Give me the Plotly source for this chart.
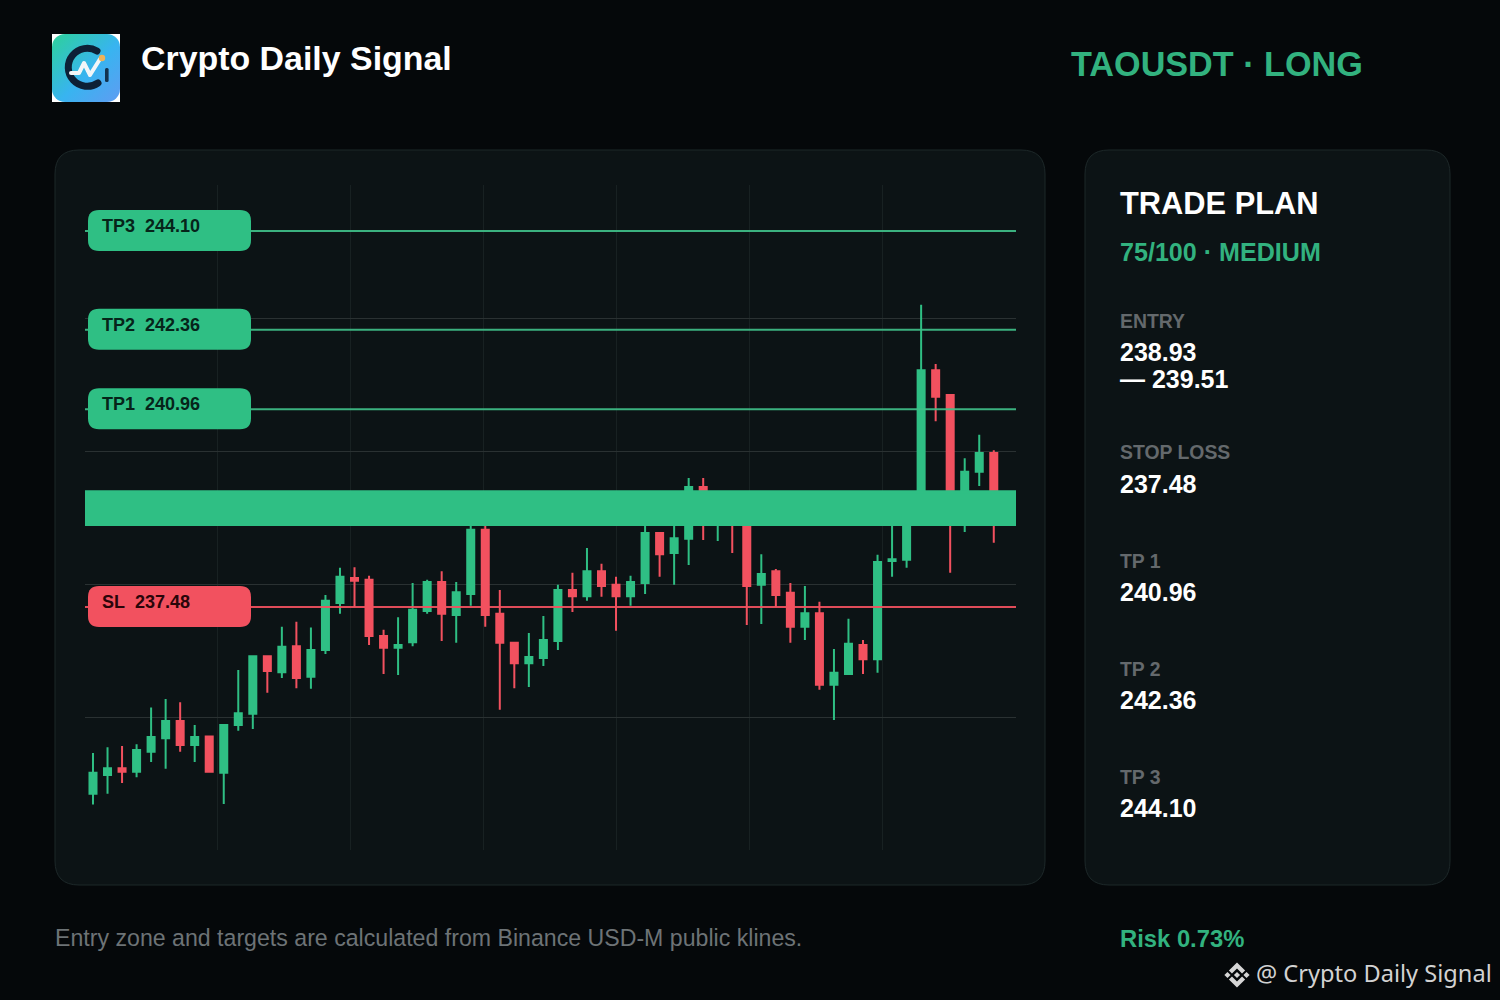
import base64
import plotly.graph_objects as go

# candles (hidden parts behind the entry band are guesses)
opens = [234.19, 234.52, 234.64, 234.58, 234.93, 235.17, 235.47, 235.05, 235.20, 234.56,
         235.40, 235.60, 236.61, 236.33, 236.79, 236.25, 236.72, 237.55, 237.99, 237.96,
         236.97, 236.76, 236.86, 237.41, 237.92, 237.34, 237.71, 238.84, 237.36, 236.85,
         236.49, 236.58, 236.88, 237.78, 237.67, 238.11, 237.87, 237.67, 237.90, 238.78,
         238.43, 238.68, 239.59, 239.10, 239.40, 239.10, 237.87, 238.11, 237.73, 237.13,
         237.37, 236.11, 236.30, 236.81, 236.56, 238.29, 238.31, 239.19, 241.65, 241.21,
         239.10, 239.86, 240.19]
highs = [234.91, 235.01, 235.03, 235.06, 235.71, 235.86, 235.80, 235.40, 235.21, 235.42,
         236.37, 236.62, 236.62, 237.13, 237.22, 237.12, 237.69, 238.17, 238.18, 238.03,
         237.08, 237.30, 237.90, 237.96, 238.11, 237.92, 238.98, 238.98, 237.78, 236.85,
         237.02, 237.32, 237.87, 238.08, 238.52, 238.24, 238.01, 238.03, 238.91, 238.80,
         238.98, 239.75, 239.75, 239.50, 239.45, 239.19, 238.41, 238.15, 237.90, 237.85,
         237.57, 236.74, 237.27, 236.90, 238.40, 238.98, 239.28, 242.80, 241.76, 241.23,
         240.10, 240.51, 240.24]
lows = [234.00, 234.19, 234.38, 234.48, 234.75, 234.63, 234.93, 234.75, 234.58, 234.01,
        235.30, 235.33, 235.97, 236.23, 236.05, 236.04, 236.65, 237.36, 237.48, 236.81,
        236.30, 236.28, 236.79, 237.36, 236.88, 236.85, 237.50, 237.13, 235.67, 236.05,
        236.07, 236.44, 236.72, 237.39, 237.59, 237.66, 237.06, 237.50, 237.71, 238.01,
        237.87, 238.22, 238.66, 238.64, 238.43, 237.16, 237.18, 237.48, 236.85, 236.90,
        236.02, 235.49, 236.30, 236.30, 236.32, 238.01, 238.17, 239.05, 240.75, 238.08,
        238.80, 239.61, 238.61]
closes = [234.56, 234.64, 234.58, 234.96, 235.19, 235.47, 235.05, 235.19, 234.58, 235.40,
          235.61, 236.61, 236.35, 236.78, 236.23, 236.72, 237.59, 238.01, 237.94, 236.97,
          236.76, 236.81, 237.43, 237.92, 237.36, 237.74, 238.84, 237.34, 236.85, 236.49,
          236.60, 236.90, 237.78, 237.67, 238.11, 237.85, 237.67, 237.92, 238.78, 238.41,
          238.69, 239.59, 239.19, 239.45, 239.01, 237.85, 238.06, 237.69, 237.13, 237.37,
          236.11, 236.32, 236.83, 236.56, 238.27, 238.32, 239.19, 241.65, 241.18, 239.10,
          239.86, 240.19, 239.15]

entry_low = 238.93
entry_high = 239.51
stop_loss = 237.48
tp_levels = [240.96, 242.36, 244.10]
tp_names = ['TP1', 'TP2', 'TP3']

x_grid = [8.56, 17.71, 26.87, 36.02, 45.17, 54.33]
y_grid = [235.54, 237.88, 240.22, 242.56]

plan_labels = ['ENTRY', 'STOP LOSS', 'TP 1', 'TP 2', 'TP 3']
plan_values = ['238.93<br>— 239.51', '237.48', '240.96', '242.36', '244.10']
plan_label_y = [321, 452, 561, 669, 777]
plan_value_y = [352, 484, 592, 700, 808]

GREEN = '#2fbf84'
RED = '#f2515f'
TEXT_GREEN = '#32b27f'
BG = '#05080a'
PANEL = '#0c1315'
PANEL_EDGE = '#1d2829'
W, H = 1500, 1000

LOGO_SVG = '''<svg xmlns="http://www.w3.org/2000/svg" width="68" height="68" viewBox="0 0 68 68">
<defs><linearGradient id="g" x1="0" y1="0" x2="1" y2="1">
<stop offset="0" stop-color="#2dd19a"/><stop offset="0.55" stop-color="#38b4f0"/><stop offset="1" stop-color="#5f9cf2"/>
</linearGradient></defs>
<rect width="68" height="68" fill="#fff"/>
<rect width="68" height="68" rx="13" fill="url(#g)"/>
<path d="M45 17 A19 19 0 1 0 46 49" fill="none" stroke="#0d2036" stroke-width="7" stroke-linecap="round"/>
<polyline points="19,39 27,39 32,29 38,41 48,25" fill="none" stroke="#f2f6f8" stroke-width="4" stroke-linejoin="round" stroke-linecap="round"/>
<circle cx="50" cy="24" r="3.2" fill="#f0b35a"/>
<rect x="53" y="34" width="3.6" height="14" rx="1.5" fill="#12324f"/>
</svg>'''

BINANCE_SVG = '''<svg xmlns="http://www.w3.org/2000/svg" width="100" height="100" viewBox="0 0 100 100" fill="#d6d6d6">
<polygon points="50,39 61,50 50,61 39,50"/>
<polygon points="5,50 16,39 27,50 16,61"/>
<polygon points="95,50 84,39 73,50 84,61"/>
<polygon points="50,5 79,34 68,45 50,27 32,45 21,34"/>
<polygon points="50,95 79,66 68,55 50,73 32,55 21,66"/>
</svg>'''


def svgUri(svg):
  return 'data:image/svg+xml;base64,' + base64.b64encode(svg.encode()).decode()


def roundedPath(x0, y0, x1, y1, r):
  return (f'M {x0+r} {y0} L {x1-r} {y0} Q {x1} {y0} {x1} {y0+r} L {x1} {y1-r} Q {x1} {y1} {x1-r} {y1} '
          f'L {x0+r} {y1} Q {x0} {y1} {x0} {y1-r} L {x0} {y0+r} Q {x0} {y0} {x0+r} {y0} Z')


def panel(x0, y0, x1, y1, r = 24):
  # paper coordinates, page pixels go in
  px = lambda v: v / W
  py = lambda v: 1 - v / H
  path = (f'M {px(x0+r)} {py(y0)} L {px(x1-r)} {py(y0)} Q {px(x1)} {py(y0)} {px(x1)} {py(y0+r)} '
          f'L {px(x1)} {py(y1-r)} Q {px(x1)} {py(y1)} {px(x1-r)} {py(y1)} '
          f'L {px(x0+r)} {py(y1)} Q {px(x0)} {py(y1)} {px(x0)} {py(y1-r)} '
          f'L {px(x0)} {py(y0+r)} Q {px(x0)} {py(y0)} {px(x0+r)} {py(y0)} Z')
  return dict(type = 'path', xref = 'paper', yref = 'paper', path = path, fillcolor = PANEL,
              line = dict(color = PANEL_EDGE, width = 1), layer = 'below')


def pageText(x, y, text, size, color, bold = True, font = 'Liberation Sans'):
  # x is shifted by the 2px of padding plotly puts round an annotation
  return dict(xref = 'paper', yref = 'paper', x = (x - 2) / W, y = 1 - y / H, text = text, showarrow = False,
              xanchor = 'left', yanchor = 'middle', align = 'left',
              font = dict(family = font, size = size, color = color, weight = 'bold' if bold else 'normal'))


def levelLine(level, color):
  return dict(type = 'line', xref = 'x domain', yref = 'y', x0 = 0, x1 = 1, y0 = level, y1 = level,
              line = dict(color = color, width = 2), opacity = 0.92, layer = 'above')


def levelPill(level, color):
  return dict(type = 'path', xref = 'paper', yref = 'y', xsizemode = 'pixel', ysizemode = 'pixel',
              xanchor = 0, yanchor = level, path = roundedPath(88, -20, 251, 21, 11),
              fillcolor = color, line = dict(width = 0), layer = 'above')


def levelText(level, text, color):
  return dict(xref = 'paper', yref = 'y', x = 100 / W, y = level, yshift = 5, text = text, showarrow = False,
              xanchor = 'left', yanchor = 'middle',
              font = dict(family = 'Liberation Sans', size = 18, color = color, weight = 'bold'))


fig = go.Figure(go.Candlestick(
  x = list(range(len(opens))),
  open = opens, high = highs, low = lows, close = closes,
  increasing = dict(line = dict(color = GREEN, width = 2), fillcolor = GREEN),
  decreasing = dict(line = dict(color = RED, width = 2), fillcolor = RED),
  whiskerwidth = 0,
  hoverinfo = 'skip',
))

shapes = [panel(55, 150, 1045, 885), panel(1085, 150, 1450, 885)]
for level in tp_levels:
  shapes.append(levelLine(level, '#3fbf88'))
shapes.append(levelLine(stop_loss, RED))
# entry zone sits on top of the candles, its outline makes it 3px taller
shapes.append(dict(type = 'rect', xref = 'x domain', yref = 'y', x0 = 0.0016, x1 = 0.9984, y0 = entry_low, y1 = entry_high,
                   fillcolor = GREEN, line = dict(color = GREEN, width = 3), layer = 'above'))
for level in tp_levels:
  shapes.append(levelPill(level, GREEN))
shapes.append(levelPill(stop_loss, RED))

annotations = [
  pageText(141, 58, 'Crypto Daily Signal', 33.9, '#ffffff'),
  pageText(1071, 64, 'TAOUSDT · LONG', 34.2, TEXT_GREEN),
  pageText(1120, 204, 'TRADE PLAN', 30.8, '#ffffff'),
  pageText(1120, 252, '75/100 · MEDIUM', 25.1, TEXT_GREEN),
  pageText(55, 938, 'Entry zone and targets are calculated from Binance USD-M public klines.', 23.15, '#6d7376', False),
  pageText(1120, 938.5, 'Risk 0.73%', 23.8, TEXT_GREEN),
  pageText(1256, 973, '@ Crypto Daily Signal', 23.6, '#d2d2d2', False, 'Noto Sans'),
]
for name, level in zip(tp_names, tp_levels):
  annotations.append(levelText(level, f'{name}\u00a0\u00a0{level:.2f}', '#06241a'))
annotations.append(levelText(stop_loss, f'SL\u00a0\u00a0{stop_loss:.2f}', '#2a0509'))

for label, y in zip(plan_labels, plan_label_y):
  annotations.append(pageText(1120, y, label, 19.4, '#64696c'))
for value, y in zip(plan_values, plan_value_y):
  if '<br>' in value:
    first, second = value.split('<br>')
    annotations.append(pageText(1120, y, first, 25, '#ffffff'))
    annotations.append(pageText(1120, y + 27, second, 25, '#ffffff'))
  else:
    annotations.append(pageText(1120, y, value, 25, '#ffffff'))

fig.update_layout(
  width = W,
  height = H,
  margin = dict(l = 0, r = 0, t = 0, b = 0),
  paper_bgcolor = BG,
  plot_bgcolor = 'rgba(0,0,0,0)',
  showlegend = False,
  boxgap = 0.31,
  xaxis = dict(
    domain = [85 / W, 1016 / W], range = [-0.55, 63.53], rangeslider = dict(visible = False),
    tickmode = 'array', tickvals = x_grid, showticklabels = False, ticks = '',
    gridcolor = '#182122', gridwidth = 1, zeroline = False, showline = False,
  ),
  yaxis = dict(
    domain = [1 - 850 / H, 1 - 185 / H], range = [233.20, 244.91],
    tickmode = 'array', tickvals = y_grid, showticklabels = False, ticks = '',
    gridcolor = '#2a3132', gridwidth = 1, zeroline = False, showline = False,
  ),
  shapes = shapes,
  annotations = annotations,
  images = [
    dict(source = svgUri(LOGO_SVG), xref = 'paper', yref = 'paper', x = 52 / W, y = 1 - 34 / H,
         sizex = 68 / W, sizey = 68 / H, xanchor = 'left', yanchor = 'top', sizing = 'stretch', layer = 'above'),
    dict(source = svgUri(BINANCE_SVG), xref = 'paper', yref = 'paper', x = 1223 / W, y = 1 - 961 / H,
         sizex = 28 / W, sizey = 28 / H, xanchor = 'left', yanchor = 'top', sizing = 'stretch', layer = 'above'),
  ],
)

fig.write_html('out.html', config = dict(displayModeBar = False), post_script = "document.body.style.margin = '0';")
